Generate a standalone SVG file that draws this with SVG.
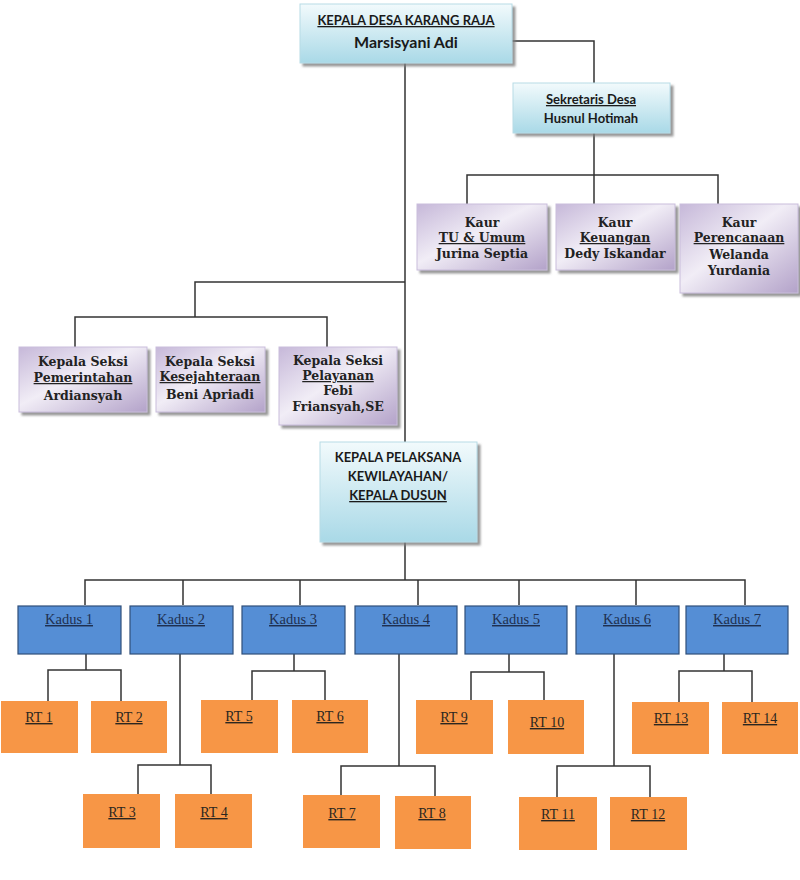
<svg xmlns="http://www.w3.org/2000/svg" width="800" height="880" viewBox="0 0 800 880">
<defs>
<linearGradient id="gBlue" x1="0" y1="0" x2="0" y2="1">
<stop offset="0" stop-color="#f2fafc"/>
<stop offset="1" stop-color="#a9d9e7"/>
</linearGradient>
<linearGradient id="gPurple" x1="0" y1="0" x2="1" y2="1">
<stop offset="0" stop-color="#c6b8d9"/>
<stop offset="0.45" stop-color="#f1edf6"/>
<stop offset="1" stop-color="#b3a2c9"/>
</linearGradient>
<filter id="sh" x="-10%" y="-10%" width="125%" height="130%">
<feDropShadow dx="3" dy="3" stdDeviation="1" flood-color="#7f7f7f" flood-opacity="0.8"/>
</filter>
</defs>
<style>
.blue{fill:url(#gBlue);stroke:#b7dbe6;stroke-width:1;filter:url(#sh)}
.purple{fill:url(#gPurple);stroke:#c9bddb;stroke-width:1;filter:url(#sh)}
.kadus{fill:#558ed5;stroke:#2f4f7a;stroke-width:1.2}
.rt{fill:#f79646}
.sans{font-family:Lato,"Open Sans","Liberation Sans",sans-serif;font-weight:bold;fill:#1a1a1a;text-anchor:middle}
.ser{font-family:"DejaVu Serif","Liberation Serif",serif;font-weight:bold;fill:#222;text-anchor:middle;font-size:12.5px}
.kt{font-family:"Liberation Serif",serif;fill:#1f3050;text-anchor:middle;font-size:14.5px;text-decoration:underline}
.rtt{font-family:"Liberation Serif",serif;fill:#2b2620;text-anchor:middle;font-size:14px;text-decoration:underline}
.u{text-decoration:underline}
.ln{fill:none;stroke:#333;stroke-width:1.5}
</style>
<g id="connectors" class="ln">
<path d="M512 41 H594 V83"/>
<path d="M405 63 V442"/>
<path d="M594 133 V175 M467 204 V175 H718 V204 M594 175 V204"/>
<path d="M405 282 H195 V317 M75 347 V317 H327 V347"/>
<path d="M405 542 V580 M85 605 V580 H745 V605 M183 580 V605 M300 580 V605 M418 580 V605 M519 580 V605 M636 580 V605"/>
<path d="M86 654 V670 M48 701 V670 H121 V701"/>
<path d="M180 654 V765 M138 795 V765 H211 V795"/>
<path d="M294 654 V671 M252 700 V671 H325 V700"/>
<path d="M399 654 V766 M341 795 V766 H435 V796"/>
<path d="M509 654 V672 M471 701 V672 H544 V701"/>
<path d="M614 654 V766 M557 797 V766 H650 V797"/>
<path d="M724 654 V671 M679 702 V671 H752 V702"/>
</g>
<g id="kepala-desa">
<rect class="blue" x="300" y="4" width="212" height="59"/>
<text class="sans u" x="406" y="25" font-size="13">KEPALA DESA KARANG RAJA</text>
<text class="sans" x="406" y="48" font-size="16">Marsisyani Adi</text>
</g>
<g id="sekretaris">
<rect class="blue" x="513" y="83" width="157" height="50"/>
<text class="sans u" x="591" y="104" font-size="13">Sekretaris Desa</text>
<text class="sans" x="591" y="123" font-size="13">Husnul Hotimah</text>
</g>
<g id="kaur-tu">
<rect class="purple" x="417" y="204" width="130" height="66"/>
<text class="ser" x="482" y="227">Kaur</text>
<text class="ser u" x="482" y="242">TU &amp; Umum</text>
<text class="ser" x="482" y="258">Jurina Septia</text>
</g>
<g id="kaur-keuangan">
<rect class="purple" x="556" y="204" width="119" height="66"/>
<text class="ser" x="615" y="227">Kaur</text>
<text class="ser u" x="615" y="242">Keuangan</text>
<text class="ser" x="615" y="258" font-size="11.5">Dedy Iskandar</text>
</g>
<g id="kaur-perencanaan">
<rect class="purple" x="680" y="204" width="118" height="89"/>
<text class="ser" x="739" y="227">Kaur</text>
<text class="ser u" x="739" y="242">Perencanaan</text>
<text class="ser" x="739" y="259">Welanda</text>
<text class="ser" x="739" y="275">Yurdania</text>
</g>
<g id="seksi-pemerintahan">
<rect class="purple" x="19" y="347" width="128" height="65"/>
<text class="ser" x="83" y="366">Kepala Seksi</text>
<text class="ser u" x="83" y="382">Pemerintahan</text>
<text class="ser" x="83" y="400">Ardiansyah</text>
</g>
<g id="seksi-kesejahteraan">
<rect class="purple" x="156" y="347" width="109" height="65"/>
<text class="ser" x="210" y="366">Kepala Seksi</text>
<text class="ser u" x="210" y="381" font-size="11.5">Kesejahteraan</text>
<text class="ser" x="210" y="399">Beni Apriadi</text>
</g>
<g id="seksi-pelayanan">
<rect class="purple" x="279" y="347" width="118" height="78"/>
<text class="ser" x="338" y="365" font-size="11.5">Kepala Seksi</text>
<text class="ser u" x="338" y="380" font-size="11.5">Pelayanan</text>
<text class="ser" x="338" y="395" font-size="11.5">Febi</text>
<text class="ser" x="338" y="411" font-size="11.5">Friansyah,SE</text>
</g>
<g id="kepala-pelaksana">
<rect class="blue" x="320" y="442" width="157" height="100"/>
<text class="sans" x="398" y="462" font-size="13">KEPALA PELAKSANA</text>
<text class="sans" x="398" y="481" font-size="13">KEWILAYAHAN/</text>
<text class="sans u" x="398" y="500" font-size="13">KEPALA DUSUN</text>
</g>
<g id="kadus-1"><rect class="kadus" x="18" y="606" width="103" height="48"/><text class="kt" x="69" y="624">Kadus 1</text></g>
<g id="kadus-2"><rect class="kadus" x="130" y="606" width="103" height="48"/><text class="kt" x="181" y="624">Kadus 2</text></g>
<g id="kadus-3"><rect class="kadus" x="242" y="606" width="103" height="48"/><text class="kt" x="293" y="624">Kadus 3</text></g>
<g id="kadus-4"><rect class="kadus" x="355" y="606" width="102" height="48"/><text class="kt" x="406" y="624">Kadus 4</text></g>
<g id="kadus-5"><rect class="kadus" x="465" y="606" width="102" height="48"/><text class="kt" x="516" y="624">Kadus 5</text></g>
<g id="kadus-6"><rect class="kadus" x="576" y="606" width="103" height="48"/><text class="kt" x="627" y="624">Kadus 6</text></g>
<g id="kadus-7"><rect class="kadus" x="686" y="606" width="102" height="48"/><text class="kt" x="737" y="624">Kadus 7</text></g>
<g id="rt-1"><rect class="rt" x="1" y="701" width="77" height="52"/><text class="rtt" x="39" y="722">RT 1</text></g>
<g id="rt-2"><rect class="rt" x="91" y="701" width="76" height="52"/><text class="rtt" x="129" y="722">RT 2</text></g>
<g id="rt-3"><rect class="rt" x="83" y="794" width="77" height="54"/><text class="rtt" x="122" y="817">RT 3</text></g>
<g id="rt-4"><rect class="rt" x="175" y="794" width="77" height="54"/><text class="rtt" x="214" y="817">RT 4</text></g>
<g id="rt-5"><rect class="rt" x="201" y="700" width="77" height="53"/><text class="rtt" x="239" y="721">RT 5</text></g>
<g id="rt-6"><rect class="rt" x="292" y="700" width="76" height="53"/><text class="rtt" x="330" y="721">RT 6</text></g>
<g id="rt-7"><rect class="rt" x="303" y="795" width="77" height="53"/><text class="rtt" x="342" y="818">RT 7</text></g>
<g id="rt-8"><rect class="rt" x="395" y="796" width="76" height="53"/><text class="rtt" x="432" y="818">RT 8</text></g>
<g id="rt-9"><rect class="rt" x="416" y="700" width="77" height="54"/><text class="rtt" x="454" y="722">RT 9</text></g>
<g id="rt-10"><rect class="rt" x="508" y="700" width="76" height="54"/><text class="rtt" x="547" y="727">RT 10</text></g>
<g id="rt-11"><rect class="rt" x="519" y="797" width="78" height="53"/><text class="rtt" x="558" y="819">RT 11</text></g>
<g id="rt-12"><rect class="rt" x="610" y="797" width="77" height="53"/><text class="rtt" x="648" y="819">RT 12</text></g>
<g id="rt-13"><rect class="rt" x="632" y="702" width="77" height="52"/><text class="rtt" x="671" y="723">RT 13</text></g>
<g id="rt-14"><rect class="rt" x="722" y="702" width="76" height="52"/><text class="rtt" x="760" y="723">RT 14</text></g>
</svg>
